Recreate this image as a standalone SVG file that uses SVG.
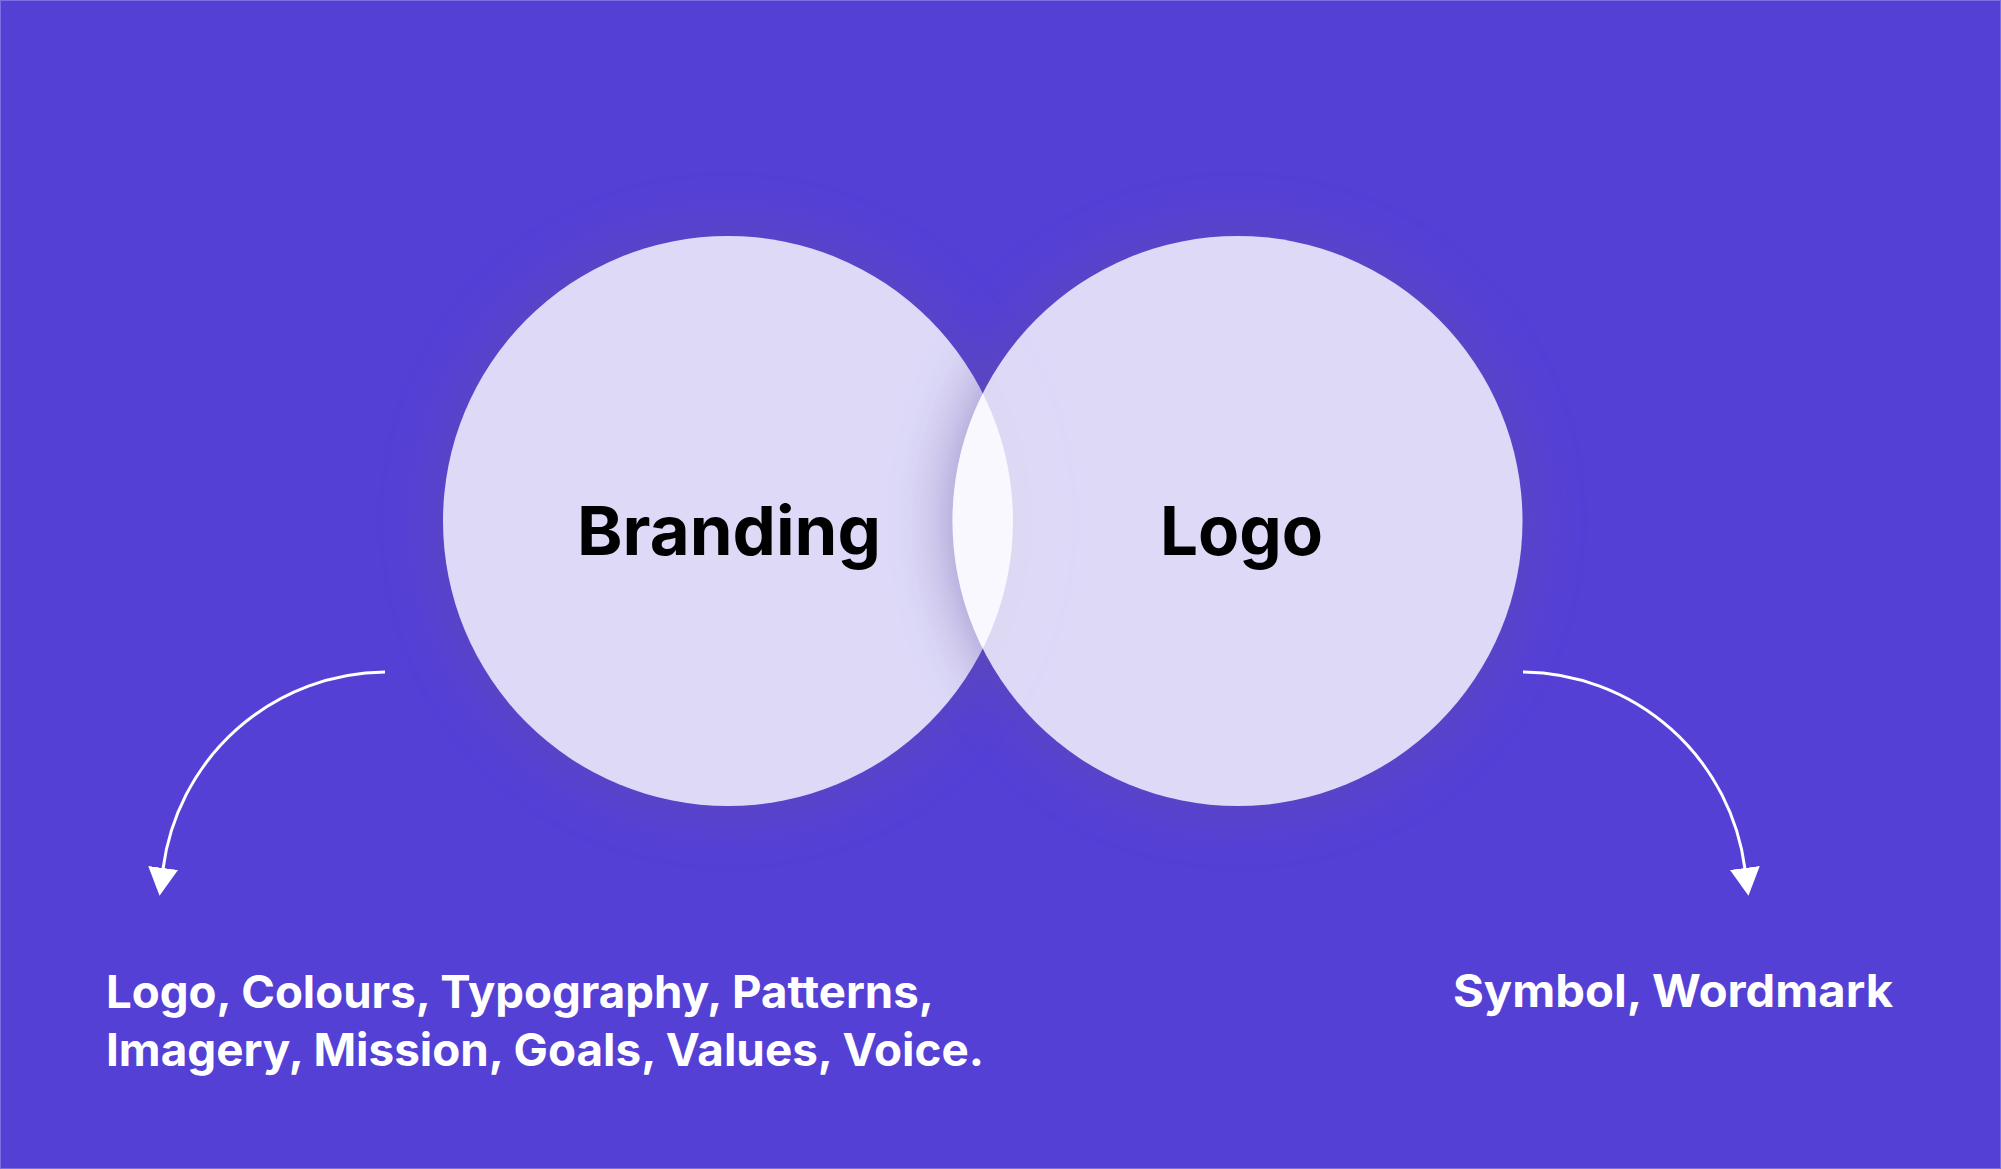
<svg xmlns="http://www.w3.org/2000/svg" width="2001" height="1169" viewBox="0 0 2001 1169">
<style>
.lbl{font-family:Inter,"Open Sans","Liberation Sans",sans-serif;font-weight:700;fill:#000;font-size:68px}
.note{font-family:Inter,"Open Sans","Liberation Sans",sans-serif;font-weight:700;fill:#fff;font-size:45px}
.circ{fill:#fff;fill-opacity:0.8}
.conn{fill:none;stroke:#fff;stroke-width:3}
</style>
<defs>
<filter id="sh" x="-30%" y="-30%" width="160%" height="160%">
<feGaussianBlur in="SourceAlpha" stdDeviation="30"/>
<feComponentTransfer><feFuncA type="linear" slope="0.55"/></feComponentTransfer>
<feColorMatrix type="matrix" values="0 0 0 0 0.12  0 0 0 0 0.08  0 0 0 0 0.36  0 0 0 1 0"/>
</filter>
<mask id="mL" maskUnits="userSpaceOnUse" x="0" y="0" width="2001" height="1169">
<rect width="2001" height="1169" fill="#fff"/>
<circle cx="728" cy="521" r="285" fill="#000"/>
</mask>
<mask id="mR" maskUnits="userSpaceOnUse" x="0" y="0" width="2001" height="1169">
<rect width="2001" height="1169" fill="#fff"/>
<circle cx="1237.5" cy="521" r="285" fill="#000"/>
</mask>
<marker id="ah" markerWidth="31" markerHeight="30" refX="1" refY="15" orient="auto" markerUnits="userSpaceOnUse" viewBox="0 0 31 30">
<path d="M0,0 L28,15 L0,30 Z" fill="#fff"/>
</marker>
</defs>
<rect x="0.5" y="0.5" width="2000" height="1168" fill="#5540D6" stroke="#7E6EE4" stroke-width="1"/>
<g id="node-branding">
<g mask="url(#mL)"><circle cx="728" cy="521" r="285" fill="#000" filter="url(#sh)"/></g>
<circle class="circ" cx="728" cy="521" r="285"/>
<text class="lbl" x="577" y="555" textLength="304" lengthAdjust="spacingAndGlyphs">Branding</text>
</g>
<g id="node-logo">
<g mask="url(#mR)"><circle cx="1237.5" cy="521" r="285" fill="#000" filter="url(#sh)"/></g>
<circle class="circ" cx="1237.5" cy="521" r="285"/>
<text class="lbl" x="1160" y="555" textLength="163" lengthAdjust="spacingAndGlyphs">Logo</text>
</g>
<g id="connectors">
<path class="conn" d="M385,672 A226,226 0 0 0 163,869" marker-end="url(#ah)"/>
<path class="conn" d="M1523,672 A226,226 0 0 1 1745,869" marker-end="url(#ah)"/>
</g>
<g id="node-branding-items">
<text class="note" x="106" y="1008" textLength="828" lengthAdjust="spacingAndGlyphs">Logo, Colours, Typography, Patterns,</text>
<text class="note" x="106" y="1066" textLength="878" lengthAdjust="spacingAndGlyphs">Imagery, Mission, Goals, Values, Voice.</text>
</g>
<g id="node-logo-items">
<text class="note" x="1453" y="1007" textLength="440" lengthAdjust="spacingAndGlyphs">Symbol, Wordmark</text>
</g>
</svg>
